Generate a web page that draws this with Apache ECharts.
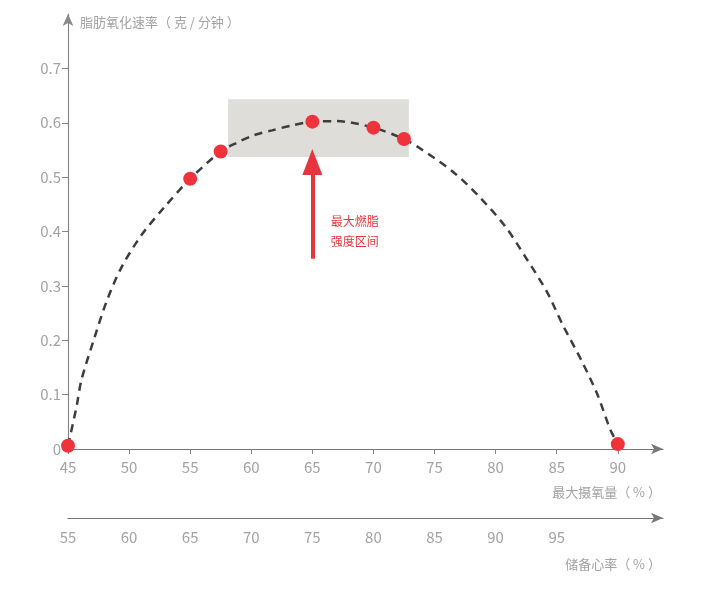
<!DOCTYPE html>
<html lang="zh">
<head>
<meta charset="UTF-8">
<title>脂肪氧化速率</title>
<script src="https://cdn.jsdelivr.net/npm/echarts@6/dist/echarts.min.js"></script>
<style>
  html, body { margin: 0; padding: 0; background: #fff; }
  #chart { width: 720px; height: 597px; }
</style>
</head>
<body>
<div id="chart"></div>
<script>
// 测量点（最大摄氧量 %，脂肪氧化速率 克/分钟）
var vo2Points = [45, 55, 57.5, 65, 70, 72.5, 90];
var fatPoints = [0.006, 0.497, 0.547, 0.602, 0.591, 0.57, 0.009];
// 虚线曲线（从图上读取的点）
var curveX = [45, 45.7, 46.1, 47.1, 48.2, 49.4, 51.0, 52.9, 55, 57.5, 58.8, 60.2, 61.7, 63.3, 65, 67, 70, 72.5, 73.8, 76.5, 78.7, 80.8, 82.5, 84.2, 85.5, 87, 88.3, 89.4, 90];
var curveY = [0.006, 0.078, 0.127, 0.2, 0.274, 0.335, 0.393, 0.445, 0.497, 0.547, 0.563, 0.577, 0.586, 0.595, 0.602, 0.603, 0.591, 0.57, 0.553, 0.51, 0.463, 0.409, 0.351, 0.289, 0.228, 0.164, 0.102, 0.035, 0.009];
// 刻度
var vo2Ticks = [45, 50, 55, 60, 65, 70, 75, 80, 85, 90];
var hrrTicks = [55, 60, 65, 70, 75, 80, 85, 90, 95];
var fatTicks = [0, 0.1, 0.2, 0.3, 0.4, 0.5, 0.6, 0.7];
// 最大燃脂强度区间
var zoneX = [58.1, 72.9];
var zoneY = [0.537, 0.643];
var arrowX = 65;
var arrowY = [0.35, 0.528];

var chart = echarts.init(document.getElementById('chart'));
var grey = '#a3a3a3';
var font = '"Noto Sans CJK SC", "Noto Sans", sans-serif';

var scatterData = vo2Points.map(function (v, i) { return [v, fatPoints[i]]; });
var curveData = curveX.map(function (v, i) { return [v, curveY[i]]; });

chart.setOption({
    animation: false,
    backgroundColor: '#fff',
    textStyle: { fontFamily: font },
    grid: { left: 68, right: 57, top: 14, bottom: 148 },
    xAxis: [
        {
            type: 'value',
            min: 45, max: 93.7,
            position: 'bottom',
            name: '最大摄氧量（ % ）',
            nameLocation: 'end',
            nameGap: -2,
            nameTextStyle: { color: grey, fontSize: 13, align: 'right', verticalAlign: 'top', padding: [37, 0, 0, 0] },
            axisLine: { lineStyle: { color: '#777', width: 1.2 }, symbol: ['none', 'arrow'], symbolSize: [8, 12] },
            axisTick: { show: true, length: 5, lineStyle: { color: '#888' }, customValues: vo2Ticks },
            axisLabel: { color: grey, fontSize: 15, margin: 11, customValues: vo2Ticks },
            splitLine: { show: false }
        },
        {
            type: 'value',
            min: 55, max: 103.7,
            position: 'bottom',
            offset: 69,
            name: '储备心率（ % ）',
            nameLocation: 'end',
            nameGap: -2,
            nameTextStyle: { color: grey, fontSize: 13, align: 'right', verticalAlign: 'top', padding: [40, 0, 0, 0] },
            axisLine: { show: true, onZero: false, lineStyle: { color: '#777', width: 1.2 }, symbol: ['none', 'arrow'], symbolSize: [8, 12] },
            axisTick: { show: false },
            axisLabel: { color: grey, fontSize: 15, margin: 12, customValues: hrrTicks },
            splitLine: { show: false }
        }
    ],
    yAxis: {
        type: 'value',
        min: 0, max: 0.8,
        name: '脂肪氧化速率（ 克 / 分钟 ）',
        nameLocation: 'end',
        nameGap: -8,
        nameTextStyle: { color: grey, fontSize: 13, align: 'left', verticalAlign: 'middle', padding: [0, 0, 0, 12] },
        axisLine: { show: true, lineStyle: { color: '#888', width: 1.2 }, symbol: ['none', 'arrow'], symbolSize: [8, 12] },
        axisTick: { show: true, length: 6, lineStyle: { color: '#888' }, customValues: fatTicks },
        axisLabel: { color: grey, fontSize: 15, margin: 7, customValues: fatTicks },
        splitLine: { show: false }
    },
    series: [
        {
            type: 'line',
            data: curveData,
            smooth: 0.3,
            symbol: 'none',
            silent: true,
            lineStyle: { color: '#3d3d3d', width: 2.5, type: [8, 6] },
            markArea: {
                silent: true,
                itemStyle: { color: 'rgba(205,203,197,0.65)' },
                data: [[{ coord: [zoneX[0], zoneY[1]] }, { coord: [zoneX[1], zoneY[0]] }]]
            },
            markLine: {
                silent: true,
                symbol: ['none', 'triangle'],
                symbolSize: [20, 26],
                lineStyle: { color: '#e8353d', width: 4, type: 'solid' },
                label: { show: false },
                data: [[{ coord: [arrowX, arrowY[0]] }, { coord: [arrowX, arrowY[1]] }]]
            },
            markPoint: {
                silent: true,
                symbol: 'circle',
                symbolSize: 0,
                label: {
                    show: true,
                    position: 'right',
                    distance: 0,
                    formatter: '最大燃脂\n强度区间',
                    color: '#e8353d',
                    fontSize: 12,
                    lineHeight: 20,
                    align: 'left'
                },
                data: [{ coord: [66.5, 0.4] }]
            },
            z: 2
        },
        {
            type: 'scatter',
            data: scatterData,
            symbol: 'circle',
            symbolSize: 14,
            itemStyle: { color: '#f0333b', opacity: 1 },
            z: 3
        }
    ]
});
</script>
</body>
</html>
